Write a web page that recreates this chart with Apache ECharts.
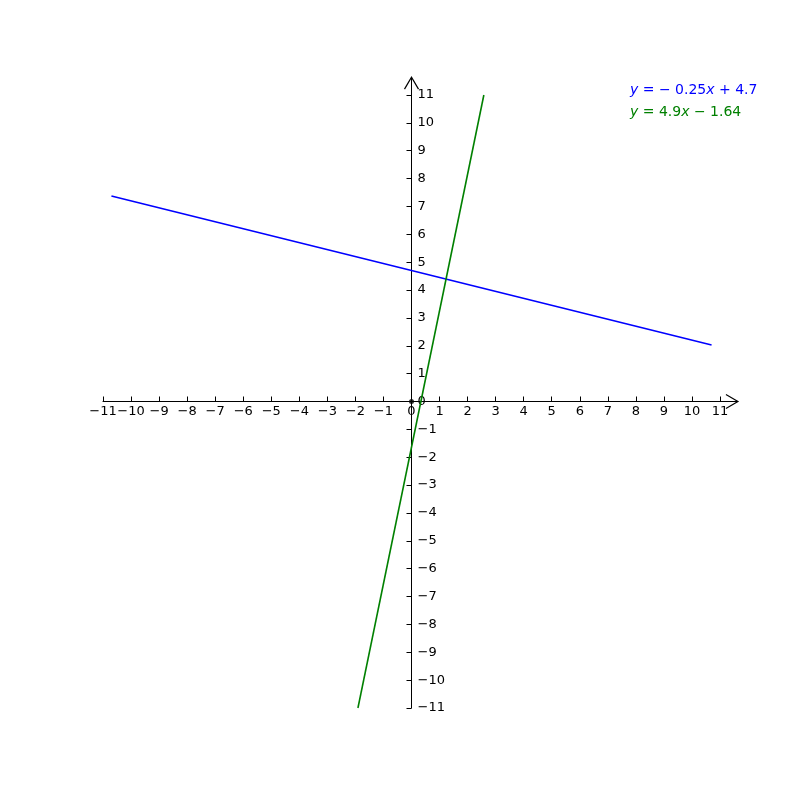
<!DOCTYPE html>
<html><head><meta charset="utf-8">
<script src="https://cdn.jsdelivr.net/npm/echarts@6/dist/echarts.min.js"></script>
<style>html,body{margin:0;padding:0;background:#fff}#c{width:800px;height:800px}</style>
</head><body><div id="c"></div>
<script>
const xTicks = [-11,-10,-9,-8,-7,-6,-5,-4,-3,-2,-1,0,1,2,3,4,5,6,7,8,9,10,11];
const yTicks = [-11,-10,-9,-8,-7,-6,-5,-4,-3,-2,-1,0,1,2,3,4,5,6,7,8,9,10,11];
const blueX = [-10.7, 10.7];
const blueY = [7.375, 2.025];
const greenX = [-1.91, 2.58];
const greenY = [-11, 11];
const originPt = [0, 0];
const axisMin = -11, axisMax = 11, axisArrowEnd = 11.64;

const L = 103, R = 80, T = 95, B = 92, W = 800, H = 800;
const zeroX = L + (W - L - R) * (0 - axisMin) / (axisMax - axisMin);
const zeroY = T + (H - T - B) * (axisMax - 0) / (axisMax - axisMin);

const chart = echarts.init(document.getElementById('c'), null, {renderer:'canvas'});
const fmt = v => String(v).replace('-', '\u2212');
const font = 'DejaVu Sans';
const hiddenAxis = (gi) => ({type:'value',gridIndex:gi,min:axisMin,max:axisMax,interval:1,show:false,splitLine:{show:false}});
chart.setOption({
  animation:false,
  grid:[
    {left:L,right:R,top:T,bottom:B},
    {left:L,right:R,top:0,height:zeroY},
    {left:0,width:zeroX,top:T,bottom:B}
  ],
  xAxis:[
    hiddenAxis(0),
    {type:'value',gridIndex:1,position:'bottom',min:axisMin,max:axisMax,interval:1,
      splitLine:{show:false},
      axisLine:{onZero:false,lineStyle:{color:'#000',width:1}},
      axisTick:{inside:true,length:5,lineStyle:{color:'#000'}},
      axisLabel:{formatter:fmt,color:'#000',fontFamily:font,fontSize:13,margin:4,showMinLabel:true,showMaxLabel:true,hideOverlap:false}},
    hiddenAxis(2)
  ],
  yAxis:[
    hiddenAxis(0),
    hiddenAxis(1),
    {type:'value',gridIndex:2,position:'right',min:axisMin,max:axisMax,interval:1,
      splitLine:{show:false},
      axisLine:{onZero:false,lineStyle:{color:'#000',width:1}},
      axisTick:{inside:true,length:5,lineStyle:{color:'#000'}},
      axisLabel:{formatter:fmt,color:'#000',fontFamily:font,fontSize:13,margin:6,showMinLabel:true,showMaxLabel:true,hideOverlap:false}}
  ],
  series:[
    {type:'line',xAxisIndex:0,yAxisIndex:0,data:blueX.map((x,i)=>[x,blueY[i]]),showSymbol:false,lineStyle:{color:'#0000ff',width:1.6},z:3},
    {type:'line',xAxisIndex:0,yAxisIndex:0,data:greenX.map((x,i)=>[x,greenY[i]]),showSymbol:false,lineStyle:{color:'#008000',width:1.6},z:3},
    {type:'scatter',xAxisIndex:0,yAxisIndex:0,data:[originPt],symbolSize:5,itemStyle:{color:'#000'},z:4}
  ]
});
const pxEnd = chart.convertToPixel({gridIndex:0},[axisMax,0]);
const px = chart.convertToPixel({gridIndex:0},[axisArrowEnd,0]);
const pyEnd = chart.convertToPixel({gridIndex:0},[0,axisMax]);
const py = chart.convertToPixel({gridIndex:0},[0,axisArrowEnd]);
const mk = (fill) => ({i:{fontStyle:'italic',fontFamily:font,fontSize:14,fill:fill},n:{fontFamily:font,fontSize:14,fill:fill}});
chart.setOption({graphic:[
  {type:'line',shape:{x1:pxEnd[0],y1:zeroY,x2:px[0],y2:zeroY},style:{stroke:'#000',lineWidth:1},z:10},
  {type:'line',shape:{x1:zeroX,y1:pyEnd[1],x2:zeroX,y2:py[1]},style:{stroke:'#000',lineWidth:1},z:10},
  {type:'polyline',shape:{points:[[px[0]-12,zeroY-7],[px[0],zeroY],[px[0]-12,zeroY+7]]},style:{stroke:'#000',lineWidth:1.2,fill:null},z:10},
  {type:'polyline',shape:{points:[[zeroX-7,py[1]+12],[zeroX,py[1]],[zeroX+7,py[1]+12]]},style:{stroke:'#000',lineWidth:1.2,fill:null},z:10},
  {type:'text',left:630,top:83,style:{text:'{i|y}{n| = \u2212 0.25}{i|x}{n| + 4.7}',rich:mk('#0000ff')}},
  {type:'text',left:630,top:105,style:{text:'{i|y}{n| = 4.9}{i|x}{n| \u2212 1.64}',rich:mk('#008000')}}
]});
</script></body></html>
